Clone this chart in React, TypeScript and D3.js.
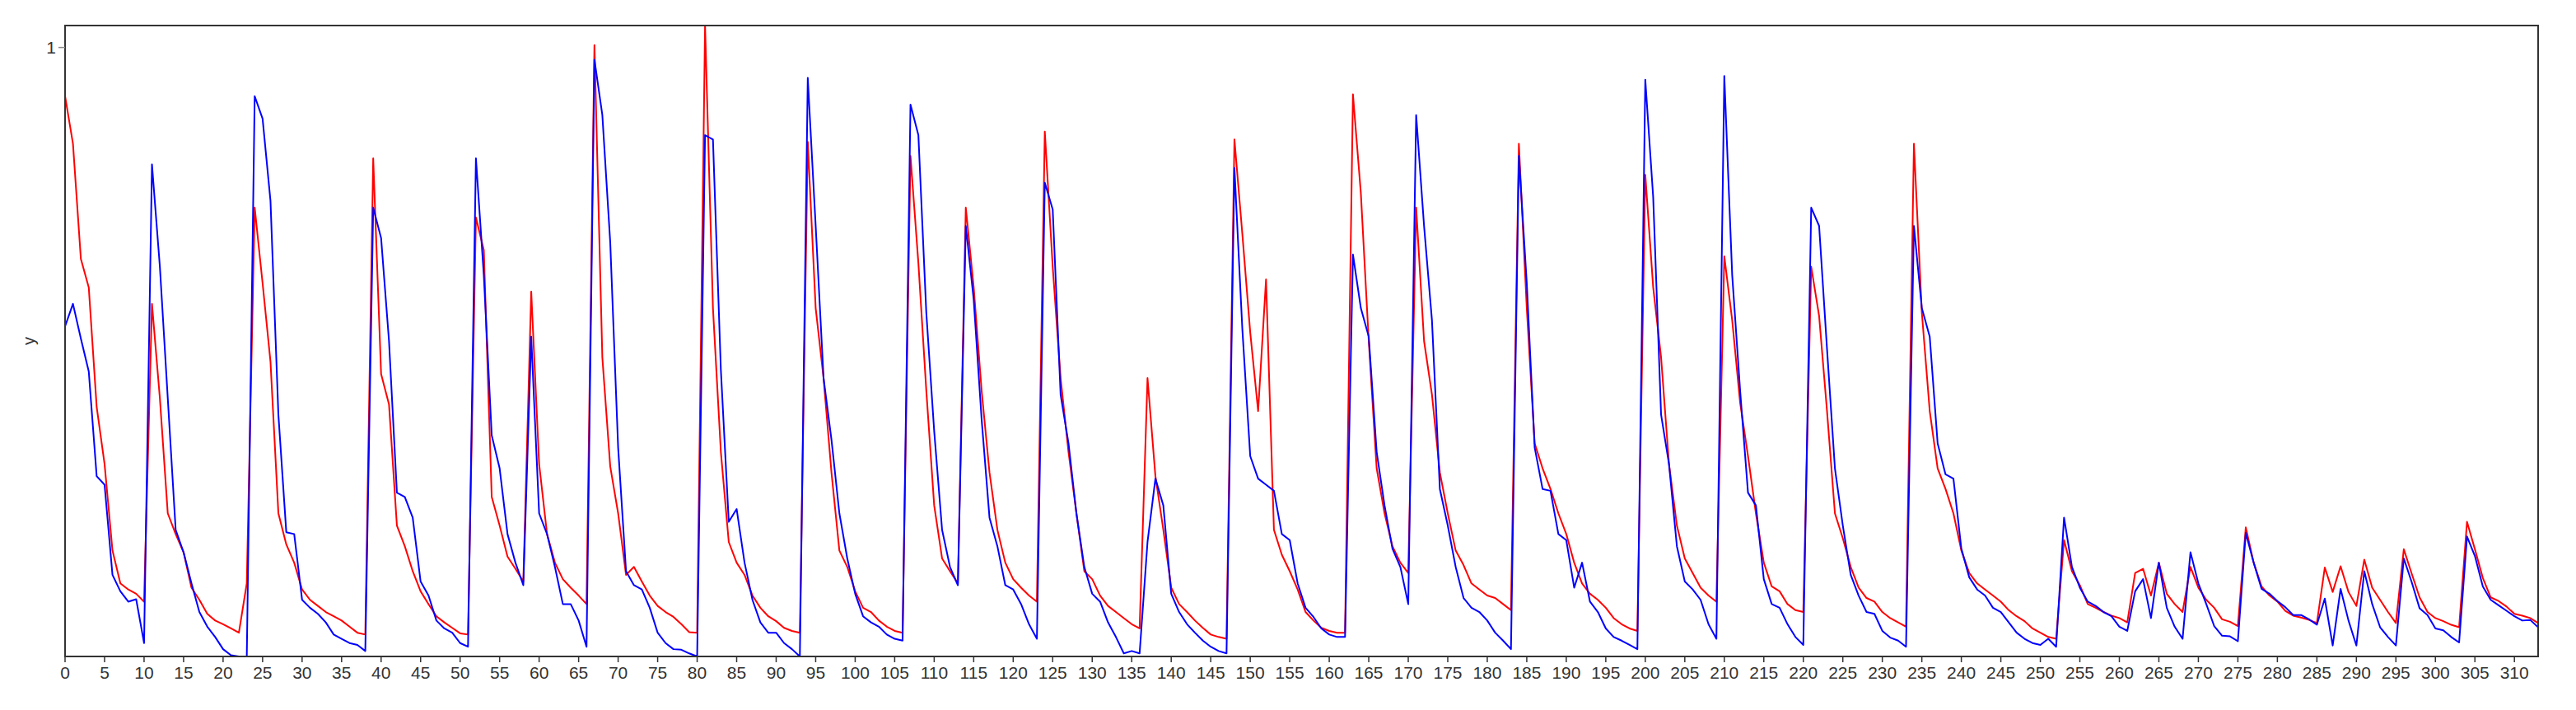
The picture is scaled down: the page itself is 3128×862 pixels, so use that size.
import React from "react";
import * as d3 from "d3";

// Series values (index = x position 0..313)
const redSeries: number[] = [
  0.920, 0.842, 0.653, 0.606, 0.410, 0.316, 0.174, 0.120, 0.110, 0.103,
  0.090, 0.579, 0.424, 0.235, 0.201, 0.171, 0.113, 0.093, 0.070, 0.059,
  0.053, 0.046, 0.039, 0.120, 0.737, 0.613, 0.484, 0.235, 0.184, 0.154,
  0.110, 0.093, 0.083, 0.073, 0.066, 0.059, 0.049, 0.039, 0.036, 0.818,
  0.464, 0.414, 0.215, 0.181, 0.140, 0.107, 0.086, 0.066, 0.056, 0.047,
  0.038, 0.036, 0.721, 0.667, 0.262, 0.215, 0.164, 0.144, 0.123, 0.599,
  0.316, 0.201, 0.154, 0.127, 0.113, 0.100, 0.086, 1.004, 0.491, 0.312,
  0.235, 0.134, 0.147, 0.123, 0.100, 0.083, 0.073, 0.065, 0.053, 0.040,
  0.039, 1.036, 0.572, 0.336, 0.188, 0.154, 0.134, 0.100, 0.080, 0.066,
  0.058, 0.047, 0.042, 0.039, 0.845, 0.572, 0.457, 0.302, 0.174, 0.147,
  0.107, 0.080, 0.073, 0.059, 0.049, 0.042, 0.039, 0.822, 0.646, 0.437,
  0.248, 0.161, 0.140, 0.120, 0.737, 0.606, 0.437, 0.302, 0.208, 0.154,
  0.127, 0.113, 0.100, 0.090, 0.862, 0.640, 0.457, 0.336, 0.235, 0.140,
  0.127, 0.100, 0.083, 0.073, 0.063, 0.053, 0.046, 0.457, 0.296, 0.208,
  0.113, 0.086, 0.073, 0.059, 0.047, 0.036, 0.032, 0.029, 0.849, 0.694,
  0.532, 0.403, 0.619, 0.208, 0.167, 0.140, 0.110, 0.073, 0.059, 0.047,
  0.042, 0.039, 0.039, 0.923, 0.761, 0.518, 0.309, 0.235, 0.181, 0.154,
  0.137, 0.737, 0.518, 0.430, 0.302, 0.235, 0.174, 0.150, 0.120, 0.110,
  0.100, 0.096, 0.086, 0.076, 0.842, 0.572, 0.350, 0.309, 0.275, 0.235,
  0.201, 0.154, 0.120, 0.103, 0.093, 0.080, 0.063, 0.053, 0.046, 0.042,
  0.791, 0.606, 0.491, 0.316, 0.215, 0.161, 0.137, 0.113, 0.100, 0.090,
  0.657, 0.552, 0.417, 0.329, 0.235, 0.154, 0.115, 0.107, 0.086, 0.076,
  0.073, 0.640, 0.559, 0.403, 0.235, 0.194, 0.147, 0.113, 0.096, 0.090,
  0.073, 0.063, 0.056, 0.049, 0.842, 0.565, 0.403, 0.309, 0.275, 0.235,
  0.174, 0.137, 0.120, 0.110, 0.100, 0.090, 0.076, 0.066, 0.058, 0.046,
  0.039, 0.032, 0.029, 0.191, 0.140, 0.117, 0.086, 0.080, 0.073, 0.067,
  0.063, 0.056, 0.137, 0.144, 0.100, 0.154, 0.103, 0.086, 0.073, 0.147,
  0.113, 0.093, 0.080, 0.061, 0.057, 0.050, 0.212, 0.154, 0.115, 0.100,
  0.090, 0.075, 0.067, 0.064, 0.060, 0.055, 0.146, 0.106, 0.148, 0.106,
  0.083, 0.159, 0.113, 0.093, 0.073, 0.055, 0.176, 0.136, 0.097, 0.073,
  0.063, 0.058, 0.052, 0.048, 0.221, 0.176, 0.129, 0.097, 0.091, 0.082,
  0.070, 0.067, 0.063, 0.055,
];

const blueSeries: number[] = [
  0.542, 0.579, 0.522, 0.468, 0.296, 0.282, 0.134, 0.107, 0.090, 0.094,
  0.022, 0.808, 0.640, 0.424, 0.208, 0.171, 0.120, 0.073, 0.049, 0.032,
  0.012, 0.002, 0.000, 0.000, 0.920, 0.883, 0.748, 0.397, 0.204, 0.201,
  0.093, 0.080, 0.070, 0.056, 0.036, 0.029, 0.022, 0.019, 0.009, 0.737,
  0.687, 0.518, 0.269, 0.262, 0.228, 0.123, 0.100, 0.059, 0.046, 0.039,
  0.022, 0.016, 0.818, 0.626, 0.363, 0.309, 0.201, 0.154, 0.117, 0.525,
  0.235, 0.201, 0.147, 0.086, 0.086, 0.059, 0.016, 0.980, 0.889, 0.680,
  0.343, 0.140, 0.117, 0.110, 0.080, 0.039, 0.022, 0.012, 0.011, 0.005,
  0.000, 0.856, 0.849, 0.471, 0.221, 0.242, 0.154, 0.093, 0.056, 0.039,
  0.039, 0.022, 0.012, 0.000, 0.950, 0.707, 0.457, 0.356, 0.235, 0.161,
  0.103, 0.066, 0.056, 0.049, 0.036, 0.029, 0.026, 0.906, 0.856, 0.565,
  0.370, 0.208, 0.147, 0.117, 0.707, 0.586, 0.390, 0.228, 0.181, 0.117,
  0.110, 0.086, 0.053, 0.029, 0.778, 0.734, 0.430, 0.350, 0.235, 0.147,
  0.103, 0.090, 0.056, 0.032, 0.005, 0.009, 0.005, 0.188, 0.292, 0.248,
  0.103, 0.073, 0.053, 0.039, 0.026, 0.016, 0.009, 0.005, 0.802, 0.538,
  0.329, 0.292, 0.282, 0.272, 0.201, 0.191, 0.120, 0.080, 0.065, 0.046,
  0.036, 0.032, 0.032, 0.660, 0.572, 0.525, 0.336, 0.248, 0.177, 0.147,
  0.086, 0.889, 0.707, 0.552, 0.275, 0.215, 0.147, 0.096, 0.080, 0.073,
  0.059, 0.039, 0.026, 0.012, 0.822, 0.613, 0.343, 0.275, 0.272, 0.201,
  0.191, 0.113, 0.154, 0.090, 0.073, 0.046, 0.032, 0.026, 0.019, 0.012,
  0.947, 0.754, 0.397, 0.316, 0.181, 0.123, 0.110, 0.093, 0.053, 0.029,
  0.953, 0.626, 0.437, 0.269, 0.248, 0.127, 0.086, 0.080, 0.053, 0.032,
  0.019, 0.737, 0.707, 0.505, 0.309, 0.215, 0.134, 0.100, 0.073, 0.070,
  0.042, 0.031, 0.026, 0.016, 0.707, 0.572, 0.525, 0.350, 0.299, 0.292,
  0.177, 0.130, 0.110, 0.100, 0.080, 0.073, 0.056, 0.039, 0.029, 0.022,
  0.019, 0.029, 0.016, 0.228, 0.147, 0.113, 0.090, 0.083, 0.073, 0.066,
  0.049, 0.042, 0.107, 0.127, 0.063, 0.154, 0.080, 0.049, 0.029, 0.171,
  0.120, 0.086, 0.050, 0.034, 0.033, 0.025, 0.203, 0.154, 0.111, 0.103,
  0.091, 0.081, 0.068, 0.068, 0.061, 0.052, 0.095, 0.018, 0.111, 0.059,
  0.018, 0.140, 0.086, 0.048, 0.032, 0.018, 0.161, 0.122, 0.079, 0.068,
  0.046, 0.043, 0.032, 0.023, 0.197, 0.165, 0.115, 0.093, 0.084, 0.075,
  0.066, 0.059, 0.060, 0.048,
];

const xTickValues: number[] = [
  0, 5, 10, 15, 20, 25, 30, 35, 40, 45, 50, 55, 60, 65, 70, 75, 80, 85, 90, 95,
  100, 105, 110, 115, 120, 125, 130, 135, 140, 145, 150, 155, 160, 165, 170, 175,
  180, 185, 190, 195, 200, 205, 210, 215, 220, 225, 230, 235, 240, 245, 250, 255,
  260, 265, 270, 275, 280, 285, 290, 295, 300, 305, 310,
];
const yTickValues: number[] = [1];
const yAxisTitle = "y";

const W = 3128;
const H = 862;
const plot = { left: 79, top: 31, right: 3082, bottom: 797 };

export default function App() {
  const n = redSeries.length;
  const x = d3.scaleLinear().domain([0, n - 1]).range([plot.left, plot.right]);
  const yMax = Math.max(d3.max(redSeries) ?? 1, d3.max(blueSeries) ?? 1);
  const y = d3.scaleLinear().domain([0, yMax]).range([plot.bottom, plot.top]);
  const line = d3
    .line<number>()
    .x((_, i) => x(i))
    .y((d) => y(d));

  const font = "'Liberation Sans', Arial, sans-serif";
  const axisColor = "#333";

  return (
    <svg
      width={W}
      height={H}
      style={{ position: "absolute", left: 0, top: 0, background: "#fff" }}
    >
      <defs>
        <clipPath id="plotClip">
          <rect
            x={plot.left}
            y={plot.top}
            width={plot.right - plot.left}
            height={plot.bottom - plot.top}
          />
        </clipPath>
      </defs>
      <rect x={0} y={0} width={W} height={H} fill="#fff" />
      <g clipPath="url(#plotClip)">
        <path d={line(redSeries) ?? ""} fill="none" stroke="#ff0000" strokeWidth={2} strokeLinejoin="round" />
        <path d={line(blueSeries) ?? ""} fill="none" stroke="#0000ff" strokeWidth={2} strokeLinejoin="round" />
      </g>
      <rect
        x={plot.left}
        y={plot.top}
        width={plot.right - plot.left}
        height={plot.bottom - plot.top}
        fill="none"
        stroke={axisColor}
        strokeWidth={2}
      />
      {xTickValues.map((t) => (
        <g key={"x" + t}>
          <line x1={x(t)} x2={x(t)} y1={plot.bottom} y2={plot.bottom + 7} stroke={axisColor} strokeWidth={1.5} />
          <text
            x={x(t)}
            y={plot.bottom + 27}
            textAnchor="middle"
            fontFamily={font}
            fontSize={21}
            fill="#333"
          >
            {t}
          </text>
        </g>
      ))}
      {yTickValues.map((t) => (
        <g key={"y" + t}>
          <line x1={plot.left - 8} x2={plot.left} y1={y(t)} y2={y(t)} stroke="#888" strokeWidth={1.5} />
          <text
            x={plot.left - 11}
            y={y(t) + 7}
            textAnchor="end"
            fontFamily={font}
            fontSize={21}
            fill="#333"
          >
            {t}
          </text>
        </g>
      ))}
      <text
        transform={`translate(42, ${(plot.top + plot.bottom) / 2}) rotate(-90)`}
        textAnchor="middle"
        fontFamily={font}
        fontSize={20}
        fill="#333"
      >
        {yAxisTitle}
      </text>
    </svg>
  );
}
